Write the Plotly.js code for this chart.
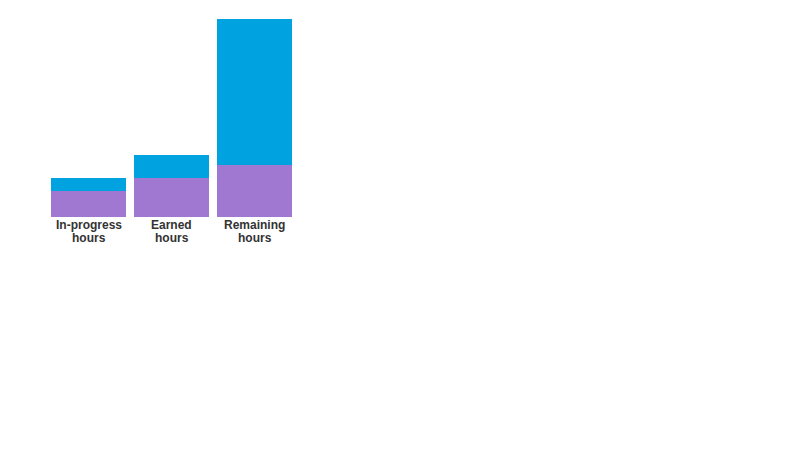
<!DOCTYPE html>
<html>
<head>
<meta charset="utf-8">
<script src="https://cdn.plot.ly/plotly-3.0.1.min.js"></script>
<style>html,body{margin:0;padding:0;background:#fff;}#chart{width:800px;height:450px;}</style>
</head>
<body>
<div id="chart"></div>
<script>
const categories = ["In-progress hours", "Earned hours", "Remaining hours"];
const labelLine1 = ["In-progress", "Earned", "Remaining"];
const labelLine2 = ["hours", "hours", "hours"];
const baseValues = [26, 39, 52.5];
const topValues = [13, 23, 145.5];

const traces = [
  {type: 'bar', x: categories, y: baseValues, marker: {color: '#A077D1'}, hoverinfo: 'none', showlegend: false},
  {type: 'bar', x: categories, y: topValues, marker: {color: '#00A3E0'}, hoverinfo: 'none', showlegend: false}
];

const annFont = {family: 'Liberation Sans, Arial, sans-serif', size: 12, color: '#333333', weight: 'bold'};
const annotations = [];
categories.forEach((c, i) => {
  annotations.push({x: c, y: 0, xref: 'x', yref: 'y', text: '<b>' + labelLine1[i] + '</b>', showarrow: false, xanchor: 'center', yanchor: 'middle', yshift: -8, font: annFont});
  annotations.push({x: c, y: 0, xref: 'x', yref: 'y', text: '<b>' + labelLine2[i] + '</b>', showarrow: false, xanchor: 'center', yanchor: 'middle', yshift: -21, font: annFont});
});

const layout = {
  width: 800, height: 450,
  margin: {l: 47, r: 504, t: 19, b: 233, pad: 0},
  barmode: 'stack',
  bargap: 0.096,
  paper_bgcolor: '#ffffff', plot_bgcolor: '#ffffff',
  xaxis: {showticklabels: false, showgrid: false, zeroline: false, showline: false, ticks: ''},
  yaxis: {range: [0, 198], showticklabels: false, showgrid: false, zeroline: false, showline: false, ticks: ''},
  annotations: annotations
};

Plotly.newPlot('chart', traces, layout, {displayModeBar: false, staticPlot: true});
</script>
</body>
</html>
